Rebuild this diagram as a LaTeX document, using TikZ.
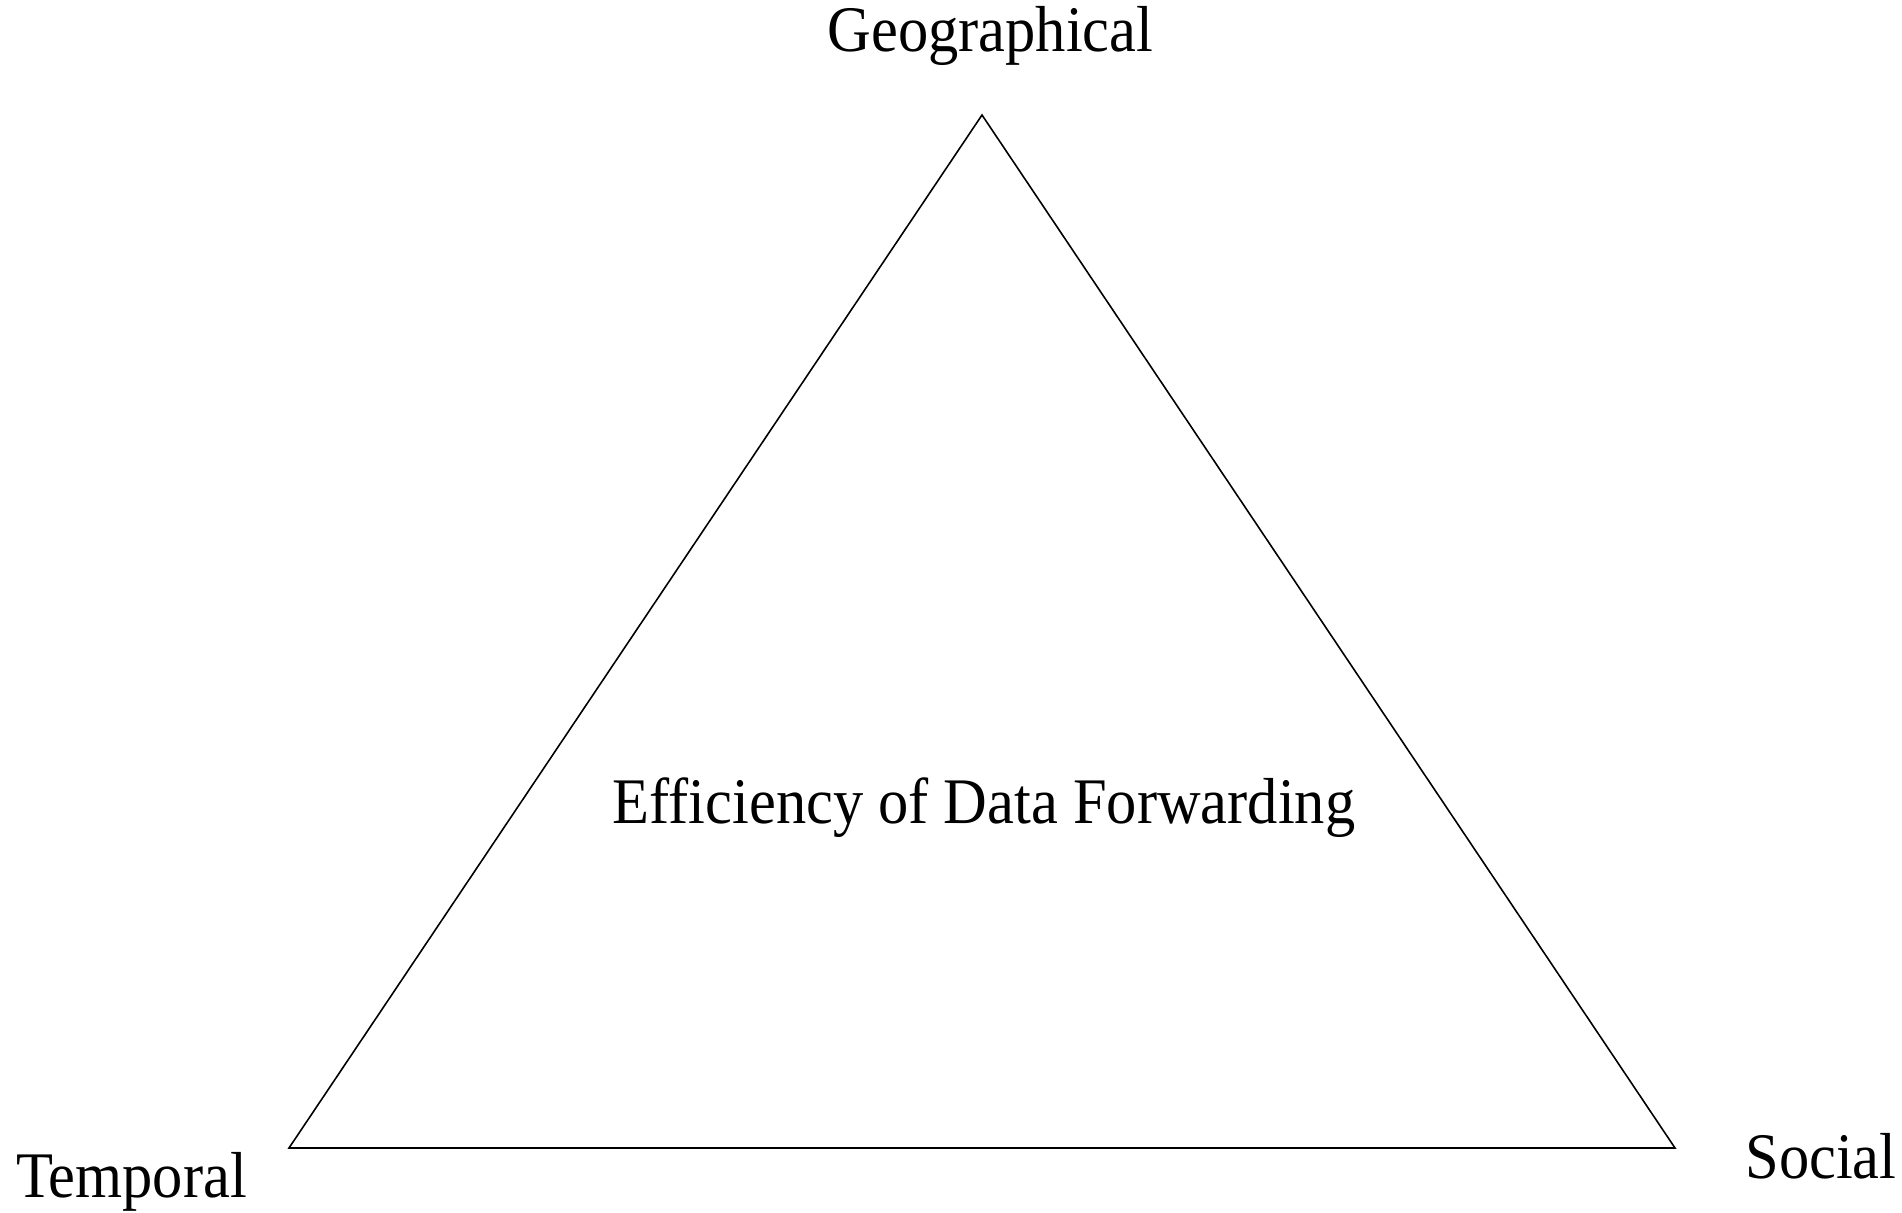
\documentclass[tikz,border=0pt]{standalone}
\usepackage{fontspec}
\setmainfont[FakeStretch=0.93]{Liberation Serif}
\usepackage{tikz}

\begin{document}
\begin{tikzpicture}[label/.style={anchor=base,inner sep=0pt,font=\fontsize{18.5}{22}\selectfont}]
  \useasboundingbox (0,0) rectangle (19.02,12.12);

  \coordinate (geo) at (9.82,10.97);
  \coordinate (tem) at (2.89,0.64);
  \coordinate (soc) at (16.75,0.64);
  \draw[line width=0.45pt] (geo) -- (soc) -- (tem) -- cycle;

  \node[label] (geolabel) at (9.905,11.60) {Geographical};
  \node[label] (temlabel) at (1.315,0.15) {Temporal};
  \node[label] (soclabel) at (18.21,0.34) {Social};
  \node[label] (efficiency) at (9.84,3.88) {Efficiency of Data Forwarding};
\end{tikzpicture}
\end{document}
